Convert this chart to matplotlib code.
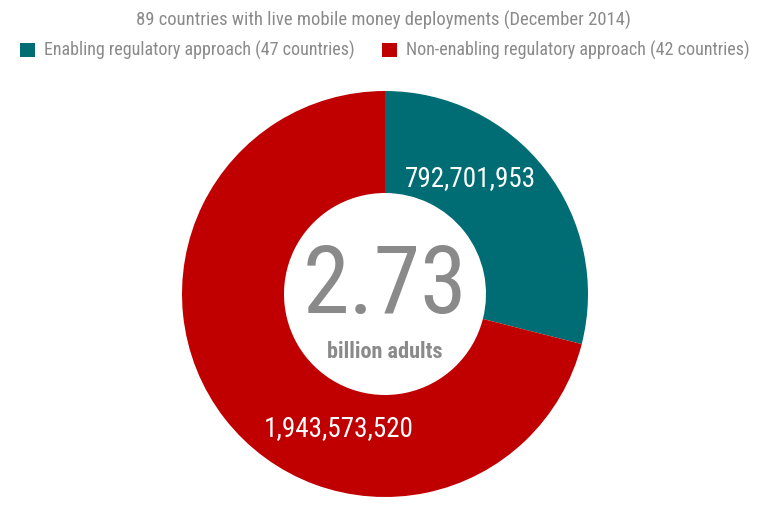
import matplotlib
matplotlib.use("Agg")
import matplotlib.pyplot as plt
from matplotlib.patches import Rectangle

# data
groups = ["Enabling regulatory approach (47 countries)",
          "Non-enabling regulatory approach (42 countries)"]
adults = [792701953, 1943573520]
value_labels = ["792,701,953", "1,943,573,520"]
total_label = "2.73"
title = "89 countries with live mobile money deployments (December 2014)"
colors = ["#006C73", "#C00000"]
grey = "#8A8A8A"

plt.rcParams["font.family"] = ["Roboto Condensed", "Liberation Sans", "DejaVu Sans"]

W, H = 770, 505
fig = plt.figure(figsize=(7.7, 5.05), dpi=100)
ax = fig.add_axes([0, 0, 1, 1])

cx, cy = 385, H - 294
ax.pie(adults, colors=colors, startangle=90, counterclock=False,
       radius=203, center=(cx, cy), frame=True,
       wedgeprops=dict(width=102, linewidth=0))
ax.set_xlim(0, W)
ax.set_ylim(0, H)
ax.set_aspect("equal")
ax.axis("off")

# value labels
ax.text(470, H - 186, value_labels[0], color="white", fontsize=19.5,
        ha="center", va="baseline")
ax.text(339, H - 436, value_labels[1], color="white", fontsize=19.5,
        ha="center", va="baseline")

# centre
ax.text(cx, H - 313, total_label, color=grey, fontsize=68,
        ha="center", va="baseline")
ax.text(cx, H - 358, "billion adults", color=grey, fontsize=16,
        fontweight="bold", ha="center", va="baseline")

# title and legend
ax.text(383, H - 26, title, color=grey, fontsize=13.4, ha="center", va="baseline")
for x0, label, c in zip([20, 382], groups, colors):
    ax.add_patch(Rectangle((x0, H - 57), 15, 14, color=c, lw=0))
    ax.text(x0 + 24, H - 56, label, color=grey, fontsize=13,
            ha="left", va="baseline")

fig.savefig("out.png", dpi=100)
